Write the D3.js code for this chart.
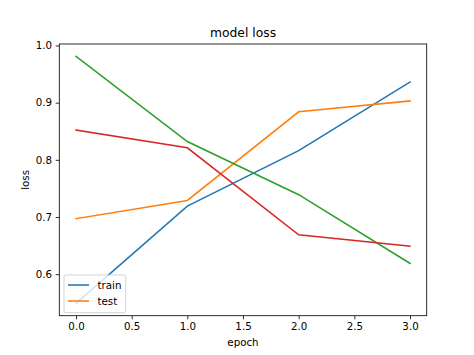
<!DOCTYPE html>
<html><head><meta charset="utf-8">
<script src="https://cdn.jsdelivr.net/npm/d3@7"></script>
<style>body{margin:0;background:#fff}svg{display:block;font-family:"DejaVu Sans",sans-serif}</style>
</head><body><svg id="c" width="474" height="355"></svg>
<script>
const epochs = [0, 1, 2, 3];
const trainLoss = [0.549, 0.719, 0.816, 0.936];
const testLoss = [0.697, 0.729, 0.884, 0.903];
const series3 = [0.981, 0.832, 0.739, 0.619];
const series4 = [0.852, 0.821, 0.669, 0.649];
const xTicks = [0, 0.5, 1, 1.5, 2, 2.5, 3];
const yTicks = [0.6, 0.7, 0.8, 0.9, 1.0];
const colors = ["#1f77b4", "#ff7f0e", "#2ca02c", "#d62728"];
const legendLabels = ["train", "test"];

const svg = d3.select("#c");
const L = 59.3, R = 426.7, T = 44, B = 315.7;
const allVals = [].concat(trainLoss, testLoss, series3, series4);
const ymin = d3.min(allVals), ymax = d3.max(allVals);
const ypad = (ymax - ymin) * 0.05;
const x = d3.scaleLinear().domain([-0.15, 3.15]).range([L, R]);
const y = d3.scaleLinear().domain([ymin - ypad, ymax + ypad]).range([B, T]);

const fs = 10.28;
const xAxis = svg.append("g").attr("transform", `translate(0,${B})`)
  .call(d3.axisBottom(x).tickValues(xTicks).tickFormat(d3.format(".1f")).tickSize(3.6).tickPadding(3.6));
const yAxis = svg.append("g").attr("transform", `translate(${L},0)`)
  .call(d3.axisLeft(y).tickValues(yTicks).tickFormat(d3.format(".1f")).tickSize(3.6).tickPadding(3.6));
[xAxis, yAxis].forEach(a => {
  a.select(".domain").remove();
  a.selectAll("line").attr("stroke", "#000").attr("stroke-width", 0.82);
  a.selectAll("text").attr("font-size", fs).attr("fill", "#000").attr("font-family", "DejaVu Sans");
});

const line = d3.line().x((d, i) => x(epochs[i])).y(d => y(d));
[trainLoss, testLoss, series3, series4].forEach((s, k) => {
  svg.append("path").datum(s).attr("d", line).attr("fill", "none")
    .attr("stroke", colors[k]).attr("stroke-width", 1.54).attr("stroke-linecap", "square");
});

svg.append("rect").attr("x", L).attr("y", T).attr("width", R - L).attr("height", B - T)
  .attr("fill", "none").attr("stroke", "#000").attr("stroke-width", 0.82);

svg.append("text").attr("x", (L + R) / 2).attr("y", 37).attr("text-anchor", "middle")
  .attr("font-size", 12.33).text("model loss");
svg.append("text").attr("x", (L + R) / 2).attr("y", 346).attr("text-anchor", "middle")
  .attr("font-size", fs).text("epoch");
svg.append("text").attr("transform", `translate(29,${(T + B) / 2}) rotate(-90)`).attr("text-anchor", "middle")
  .attr("font-size", fs).text("loss");

const lg = svg.append("g");
lg.append("rect").attr("x", 64).attr("y", 275).attr("width", 61.7).attr("height", 37.7).attr("rx", 2)
  .attr("fill", "#fff").attr("fill-opacity", 0.8).attr("stroke", "#ccc").attr("stroke-width", 0.82);
legendLabels.forEach((lab, i) => {
  const yy = 285 + i * 16;
  lg.append("line").attr("x1", 68).attr("x2", 89).attr("y1", yy).attr("y2", yy)
    .attr("stroke", colors[i]).attr("stroke-width", 1.54);
  lg.append("text").attr("x", 97.5).attr("y", yy + 3.7).attr("font-size", fs).text(lab);
});
</script></body></html>
